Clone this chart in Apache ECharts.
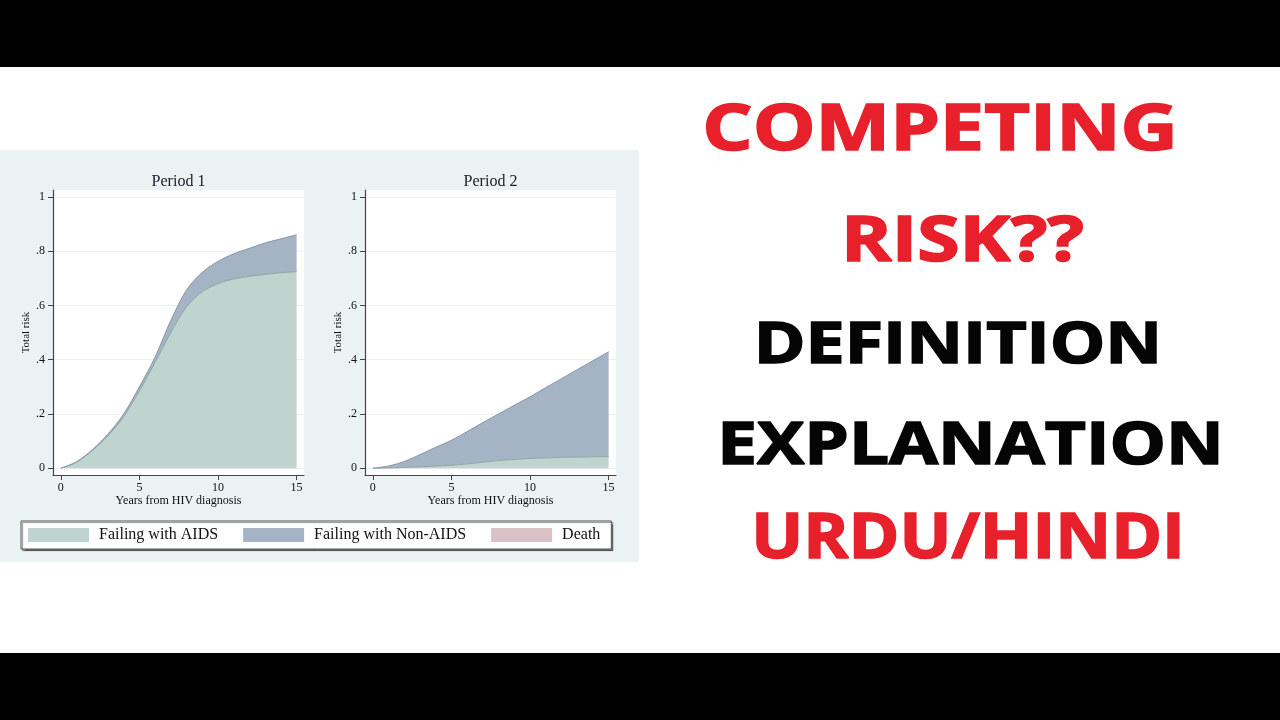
<!DOCTYPE html>
<html>
<head>
<meta charset="utf-8">
<title>Competing risk</title>
<script src="https://cdn.jsdelivr.net/npm/echarts@6/dist/echarts.min.js"></script>
<style>
    html, body { margin: 0; padding: 0; background: #fff; }
    #chart { width: 1280px; height: 720px; }
</style>
</head>
<body>
<div id="chart"></div>
<script>
// years after diagnosis
const years = [0, 1, 2, 3, 4, 5, 6, 7, 8, 9, 10, 11, 12, 13, 14, 15];

// period 1, stacked bands
const p1Aids = [0, 0.022, 0.065, 0.12, 0.19, 0.285, 0.39, 0.50, 0.595, 0.65, 0.68, 0.697, 0.707, 0.714, 0.72, 0.724];
const p1NonAids = [0, 0.002, 0.003, 0.006, 0.01, 0.015, 0.02, 0.045, 0.062, 0.072, 0.082, 0.093, 0.103, 0.116, 0.125, 0.136];
const p1Death = [0, 0, 0, 0, 0, 0, 0, 0, 0, 0, 0, 0, 0, 0, 0, 0];

// period 2
const p2Aids = [0, 0.001, 0.003, 0.005, 0.008, 0.011, 0.016, 0.022, 0.028, 0.032, 0.036, 0.038, 0.04, 0.041, 0.042, 0.043];
const p2NonAids = [0, 0.007, 0.022, 0.045, 0.069, 0.092, 0.119, 0.146, 0.172, 0.2, 0.227, 0.259, 0.29, 0.322, 0.354, 0.386];
const p2Death = [0, 0, 0, 0, 0, 0, 0, 0, 0, 0, 0, 0, 0, 0, 0, 0];

const seriesNames = ['Failing with AIDS', 'Failing with Non-AIDS', 'Death'];
const panelTitles = ['Period 1', 'Period 2'];

const xTicks = [0, 5, 10, 15];
const yTicks = [0, 0.2, 0.4, 0.6, 0.8, 1];
const yTickLabels = ['0', '.2', '.4', '.6', '.8', '1'];

const headline = ['COMPETING', 'RISK??', 'DEFINITION', 'EXPLANATION', 'URDU/HINDI'];

const serif = '"Liberation Serif", "DejaVu Serif", serif';
const fills = ['#bfd4ce', '#a5b4c5', '#d9c2c5'];
const edges = ['#8ea8a2', '#8695a9', '#c0a4a9'];

// value first so the stack is done on y (encode maps it back)
function pairs(values) {
    return years.map((y, i) => [values[i], y]);
}

function yLabel(v) {
    for (let i = 0; i < yTicks.length; i++) {
        if (Math.abs(yTicks[i] - v) < 1e-9) return yTickLabels[i];
    }
    return '';
}

const grids = [
    { left: 53, top: 190, width: 251, height: 285 },
    { left: 365, top: 190, width: 251, height: 285 }
];

const xAxes = grids.map((g, i) => ({
    type: 'value',
    gridIndex: i,
    min: -0.5,
    max: 15.47,
    name: 'Years from HIV diagnosis',
    nameLocation: 'middle',
    nameGap: 16,
    nameTextStyle: { fontFamily: serif, fontSize: 12, color: '#111' },
    axisLine: { show: true, onZero: false, lineStyle: { color: '#444', width: 1.2 } },
    axisTick: { show: true, customValues: xTicks, length: 5, lineStyle: { color: '#444' } },
    axisLabel: { customValues: xTicks, margin: 7, fontFamily: serif, fontSize: 12, color: '#111' },
    splitLine: { show: false }
}));

const yAxes = grids.map((g, i) => ({
    type: 'value',
    gridIndex: i,
    min: -0.025,
    max: 1.025,
    name: 'Total risk',
    nameLocation: 'middle',
    nameGap: 20,
    nameTextStyle: { fontFamily: serif, fontSize: 11, color: '#111' },
    axisLine: { show: true, onZero: false, lineStyle: { color: '#444', width: 1.2 } },
    axisTick: { show: true, customValues: yTicks, length: 5, lineStyle: { color: '#444' } },
    axisLabel: { customValues: yTicks, margin: 8, fontFamily: serif, fontSize: 12, color: '#111', formatter: yLabel },
    splitLine: { show: true, lineStyle: { color: '#eef1f3', width: 1 } }
}));

const periods = [
    [p1Aids, p1NonAids, p1Death],
    [p2Aids, p2NonAids, p2Death]
];

const series = [];
periods.forEach((bands, p) => {
    bands.forEach((values, k) => {
        series.push({
            name: seriesNames[k],
            type: 'line',
            xAxisIndex: p,
            yAxisIndex: p,
            stack: 'period' + p,
            data: pairs(values),
            encode: { x: 1, y: 0 },
            smooth: 0.3,
            showSymbol: false,
            symbol: 'none',
            itemStyle: { color: fills[k] },
            lineStyle: { color: edges[k], width: k === 2 ? 0 : 1 },
            areaStyle: { color: fills[k], opacity: 1 },
            silent: true
        });
    });
});

const headColors = ['#e8202b', '#e8202b', '#050505', '#050505', '#e8202b'];
const headX = [940, 962.5, 958, 970.5, 968];
const headSize = [64, 62, 58, 59, 63.5];
const headCapMid = [125.8, 237.5, 341, 441.5, 534.5];
const headScale = [1.236, 1.24, 1.205, 1.204, 1.083];

const graphics = [
    { type: 'rect', z: -10, shape: { x: 0, y: 0, width: 1280, height: 67 }, style: { fill: '#000' } },
    { type: 'rect', z: -10, shape: { x: 0, y: 653, width: 1280, height: 67 }, style: { fill: '#000' } },
    { type: 'rect', z: -10, shape: { x: 0, y: 150, width: 639, height: 412 }, style: { fill: '#eaf2f3' } }
];
headline.forEach((t, i) => {
    graphics.push({
        type: 'text',
        x: headX[i],
        y: headCapMid[i] + 0.09 * headSize[i],
        scaleX: headScale[i],
        style: {
            text: t,
            fill: headColors[i],
            stroke: headColors[i],
            lineWidth: 1.6,
            font: 'bold ' + headSize[i] + 'px "Open Sans"',
            align: 'center',
            verticalAlign: 'middle',
            textAlign: 'center',
            textVerticalAlign: 'middle'
        }
    });
});

const option = {
    backgroundColor: '#fff',
    animation: false,
    title: panelTitles.map((t, i) => ({
        text: t,
        left: grids[i].left + grids[i].width / 2 - 5,
        top: 169,
        textAlign: 'center',
        textStyle: { fontFamily: serif, fontSize: 16, fontWeight: 'normal', color: '#1c1c28' }
    })),
    grid: grids.map(g => Object.assign({ show: true, backgroundColor: '#fff', borderWidth: 0 }, g)),
    legend: {
        data: seriesNames,
        left: 21,
        top: 521,
        orient: 'horizontal',
        icon: 'rect',
        itemWidth: 61,
        itemHeight: 14,
        itemGap: 25,
        padding: [6, 11, 6, 7],
        selectedMode: false,
        backgroundColor: '#fff',
        borderColor: '#555',
        borderWidth: 1,
        shadowColor: 'rgba(0,0,0,0.45)',
        shadowOffsetX: 1.5,
        shadowOffsetY: 1.5,
        shadowBlur: 1,
        itemStyle: { borderWidth: 0 },
        textStyle: { fontFamily: serif, fontSize: 16, color: '#111', padding: [0, 0, 0, 5] }
    },
    xAxis: xAxes,
    yAxis: yAxes,
    series: series,
    graphic: { elements: graphics }
};

const chart = echarts.init(document.getElementById('chart'));
chart.setOption(option);
</script>
</body>
</html>
